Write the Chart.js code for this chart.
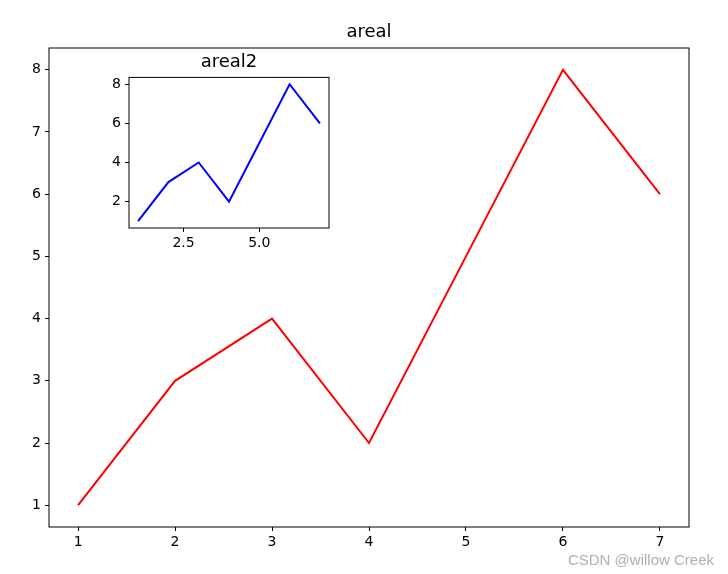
<!DOCTYPE html>
<html>
<head>
<meta charset="utf-8">
<script src="https://cdn.jsdelivr.net/npm/chart.js@4"></script>
<style>
  body { margin: 0; background: #fff; font-family: "DejaVu Sans", sans-serif; }
  #wrap { position: relative; width: 728px; height: 574px; }
  canvas { position: absolute; }
  .t { position: absolute; font-size: 18px; color: #000; transform: translateX(-50%); white-space: nowrap; }
  #wm { position: absolute; right: 14px; bottom: 6px; font-size: 15px; color: #b0b0b0; font-family: "Liberation Sans", sans-serif; }
</style>
</head>
<body>
<div id="wrap">
  <canvas id="main" width="728" height="574" style="left:0;top:0"></canvas>
  <canvas id="inset" width="251" height="193" style="left:79px;top:65px"></canvas>
  <div class="t" style="left:369px;top:20px">areal</div>
  <div class="t" style="left:229px;top:50px">areal2</div>
  <div id="wm">CSDN @willow Creek</div>
</div>
<script>
const xs = [1, 2, 3, 4, 5, 6, 7];
const ys = [1, 3, 4, 2, 5, 8, 6];
const mainXTicks = [1, 2, 3, 4, 5, 6, 7];
const mainYTicks = [1, 2, 3, 4, 5, 6, 7, 8];
const insetXTicks = [2.5, 5.0];
const insetYTicks = [2, 4, 6, 8];

const frame = {
  id: "frame",
  beforeDraw(c, a, o) {
    if (o.fill) {
      const { left, top, width, height } = c.chartArea;
      c.ctx.fillStyle = "#fff";
      c.ctx.fillRect(left, top, width, height);
    }
  },
  afterDraw(c) {
    const { left, top, width, height } = c.chartArea;
    const ctx = c.ctx;
    ctx.save();
    ctx.strokeStyle = "#000";
    ctx.lineWidth = 1;
    ctx.strokeRect(left, top, width, height);
    ctx.restore();
  }
};

function makeChart(el, color, xt, yt, yw, xh, pad, fill, fmt) {
  const tickSet = arr => s => { s.ticks = arr.map(v => ({ value: v })); };
  const grid = { display: true, drawOnChartArea: false, color: "#000", tickLength: 4, tickColor: "#000" };
  return new Chart(el, {
    type: "line",
    data: { datasets: [{ data: xs.map((x, i) => ({ x, y: ys[i] })), borderColor: color, borderWidth: 2, pointRadius: 0, tension: 0, fill: false }] },
    options: {
      responsive: false, animation: false, events: [],
      layout: { padding: pad },
      plugins: { legend: { display: false }, tooltip: { enabled: false }, frame: { fill } },
      scales: {
        x: {
          type: "linear", min: 0.7, max: 7.3, grid, border: { display: false },
          afterBuildTicks: tickSet(xt), afterFit: s => { s.height = xh; },
          ticks: { color: "#000", font: { family: "DejaVu Sans", size: 14 }, padding: 3, maxRotation: 0, callback: fmt }
        },
        y: {
          min: 0.65, max: 8.35, grid, border: { display: false },
          afterBuildTicks: tickSet(yt), afterFit: s => { s.width = yw; },
          ticks: { color: "#000", font: { family: "DejaVu Sans", size: 14 }, padding: 4 }
        }
      }
    },
    plugins: [frame]
  });
}

makeChart(document.getElementById("main"), "#ff0000", mainXTicks, mainYTicks, 49, 47,
  { left: 0, top: 48, right: 39, bottom: 0 }, false, v => String(v));
makeChart(document.getElementById("inset"), "#0000ff", insetXTicks, insetYTicks, 50, 30,
  { left: 0, top: 12, right: 1, bottom: 0 }, true, v => v.toFixed(1));
</script>
</body>
</html>
